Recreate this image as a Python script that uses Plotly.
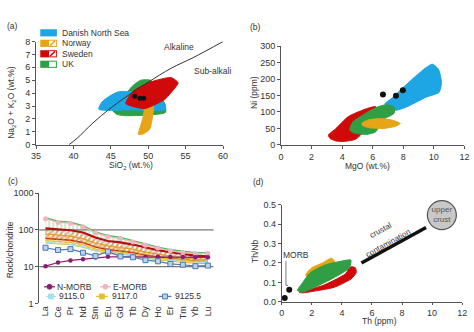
import plotly.graph_objects as go

W, H = 474, 332
FONT = "Liberation Sans, Arial, sans-serif"
TXT = "#333333"
AX = "#555555"
FS = 8.5

# ---------------- colours
C_BLUE = "#1ea5e3"
C_ORANGE = "#e6a417"
C_RED = "#d00a0a"
C_GREEN = "#2f9e44"

# ---------------- panel (a) TAS
DNS_SIO2 = [43.4, 43.8, 44.8, 46.0, 48.0, 50.0, 52.0, 52.3, 52.2, 48.0]
DNS_ALK = [2.75, 3.3, 3.75, 4.1, 4.1, 3.8, 3.4, 3.0, 2.7, 2.7]
UK_SIO2 = [45.2, 45.8, 47.0, 50.0, 52.3, 52.3, 51.0, 50.3, 49.0, 47.8, 46.5]
UK_ALK = [2.7, 2.35, 2.25, 2.3, 2.5, 3.0, 4.5, 5.0, 5.0, 4.5, 3.5]
SWE_SIO2 = [47.0, 47.5, 48.1, 50.0, 51.8, 53.1, 54.0, 53.0, 52.2, 50.5, 49.6, 48.0]
SWE_ALK = [3.2, 3.8, 4.2, 4.8, 5.1, 5.2, 4.8, 4.0, 3.5, 3.0, 2.8, 2.95]
NOR_SIO2 = [49.6, 50.7, 50.6, 50.2, 49.2, 48.7, 49.0, 49.3]
NOR_ALK = [2.9, 3.0, 2.3, 1.2, 0.8, 0.8, 1.5, 2.1]
SAMPLE_SIO2 = [48.2, 48.9, 49.4]
SAMPLE_ALK = [3.75, 3.6, 3.6]
DIVIDE_SIO2 = [39.4, 40.5, 42.6, 45.0, 47.5, 50.0, 53.1, 56.0, 60.0]
DIVIDE_ALK = [0.0, 0.5, 1.68, 2.85, 3.9, 4.85, 5.94, 6.75, 8.0]
LEGEND_A = ["Danish North Sea", "Norway", "Sweden", "UK"]

# ---------------- panel (b) MgO vs Ni
DNS_MGO = [6.8, 7.2, 8.6, 9.5, 9.9, 10.3, 10.5, 10.35, 9.5, 8.2, 7.5, 7.0]
DNS_NI = [125, 140, 200, 235, 245, 230, 190, 160, 145, 115, 105, 110]
SWE_MGO = [3.1, 3.2, 3.6, 4.2, 4.9, 5.5, 6.2, 6.2, 5.6, 4.4, 3.6]
SWE_NI = [30, 20, 12, 11, 18, 45, 100, 116, 110, 86, 50]
UK_MGO = [4.5, 4.7, 5.5, 6.3, 6.9, 7.4, 7.4, 6.6, 6.2, 5.6, 4.8]
UK_NI = [45, 70, 95, 115, 122, 115, 96, 75, 40, 32, 36]
NOR_MGO = [5.3, 5.7, 6.5, 7.3, 7.8, 7.5, 6.7, 5.8, 5.3]
NOR_NI = [66, 76, 80, 75, 65, 57, 50, 52, 60]
SAMPLE_MGO = [6.67, 7.52, 7.97]
SAMPLE_NI = [153, 149, 166]

# ---------------- panel (c) REE spider
REE = ["La", "Ce", "Pr", "Nd", "Sm", "Eu", "Gd", "Tb", "Dy", "Ho", "Er", "Tm", "Yb", "Lu"]
UK_TOP = [215, 172, 162, 130, 88, 70, 62, 50, 41, 34, 29, 26, 24, 24]
UK_BOT = [60, 56, 53, 46, 35, 30, 28, 25, 21, 19, 17, 16, 15, 15]
SWE_TOP = [110, 104, 98, 85, 62, 50, 46, 40, 33, 28, 25, 22, 20, 19]
SWE_BOT = [58, 55, 52, 45, 34, 29, 27, 24, 20, 18, 16, 15, 14, 13.5]
NOR_TOP = [78, 73, 68, 58, 44, 37, 34, 30, 25, 22, 19, 17, 16, 15.5]
NOR_BOT = [44, 42, 40, 34, 27, 23, 22, 20, 17, 15.5, 14, 13, 12.5, 12]
N_MORB = [10.3, 13, 14.8, 16, 17.8, 18.5, 18.5, 18.5, 18.5, 18.5, 18.3, 18.2, 18, 18]
E_MORB = [202, 159, 152, 122, 83, 66, 58, 47, 38, 32, 27, 24, 23, 23]
S9115 = [46, 43, 41, 35, 27, 24, 23, 21, 18, 16, 15, 14, 13.5, 13]
S9117 = [51, 48, 46, 39, 30, 26, 25, 22, 19, 17, 16, 15, 14, 14]
S9125 = [32.7, 28.3, 30, 24, 19.6, 25.7, 19, 18, 15, 14, 11.9, 11.3, 10.3, 10.7]
GRID_C = [10, 100]
LEGEND_C = ["N-MORB", "E-MORB", "9115.0", "9117.0", "9125.5"]

# ---------------- panel (d) Th vs Th/Nb
NOR_TH = [1.6, 2.0, 2.7, 3.3, 3.5, 3.3, 2.5, 1.8]
NOR_THNB = [0.14, 0.175, 0.2, 0.225, 0.21, 0.18, 0.16, 0.12]
SWE_TH = [1.15, 2.7, 4.2, 4.6, 4.9, 4.95, 4.6, 3.5, 2.4, 1.4]
SWE_THNB = [0.05, 0.083, 0.142, 0.18, 0.175, 0.15, 0.117, 0.075, 0.058, 0.046]
UK_TH = [1.05, 1.4, 1.9, 2.9, 4.0, 4.6, 4.5, 3.5, 2.2, 1.4]
UK_THNB = [0.058, 0.1, 0.15, 0.19, 0.21, 0.215, 0.175, 0.125, 0.075, 0.05]
MORB_TH = [0.2, 0.5]
MORB_THNB = [0.02, 0.062]
CONTAM_TH = [5.3, 9.6]
CONTAM_THNB = [0.2, 0.383]
CRUST_TH = [10.65]
CRUST_THNB = [0.447]


def PX(x):
    return x / W


def PY(y):
    return 1 - y / H


fig = go.Figure()


def poly(x, y, color, xa, ya):
    fig.add_trace(go.Scatter(x=x + x[:1], y=y + y[:1], fill="toself", fillcolor=color,
                             mode="lines", line=dict(color=color, width=1, shape="spline", smoothing=0.6),
                             xaxis=xa, yaxis=ya, showlegend=False, hoverinfo="skip"))


# (a)
poly(UK_SIO2, UK_ALK, C_GREEN, "x", "y")
poly(DNS_SIO2, DNS_ALK, C_BLUE, "x", "y")
poly(NOR_SIO2, NOR_ALK, C_ORANGE, "x", "y")
poly(SWE_SIO2, SWE_ALK, C_RED, "x", "y")
fig.add_trace(go.Scatter(x=DIVIDE_SIO2, y=DIVIDE_ALK, mode="lines", line=dict(color="#333", width=1, shape="spline"),
                         xaxis="x", yaxis="y", showlegend=False))
fig.add_trace(go.Scatter(x=SAMPLE_SIO2, y=SAMPLE_ALK, mode="markers", marker=dict(color="#111", size=5),
                         xaxis="x", yaxis="y", showlegend=False))

# (b)
poly(DNS_MGO, DNS_NI, C_BLUE, "x2", "y2")
poly(SWE_MGO, SWE_NI, C_RED, "x2", "y2")
poly(UK_MGO, UK_NI, C_GREEN, "x2", "y2")
poly(NOR_MGO, NOR_NI, C_ORANGE, "x2", "y2")
fig.add_trace(go.Scatter(x=SAMPLE_MGO, y=SAMPLE_NI, mode="markers", marker=dict(color="#111", size=6),
                         xaxis="x2", yaxis="y2", showlegend=False))


# (c)
def band(top, bot, edge_top, edge_bot, wt, wb, shape, fg, sol):
    fig.add_trace(go.Scatter(x=REE, y=bot, mode="lines", line=dict(color=edge_bot, width=wb),
                             xaxis="x3", yaxis="y3", showlegend=False))
    fig.add_trace(go.Scatter(x=REE, y=top, mode="lines", line=dict(color=edge_top, width=wt),
                             fill="tonexty", fillcolor="rgba(0,0,0,0)",
                             fillpattern=dict(shape=shape, fgcolor=fg, bgcolor="rgba(255,255,255,0)",
                                              size=4, solidity=sol),
                             xaxis="x3", yaxis="y3", showlegend=False))


band(UK_TOP, UK_BOT, "#5cb85c", "#7cc47c", 1.5, 0.8, "|", "#5cb85c", 0.3)
band(SWE_TOP, SWE_BOT, "#b01010", "#d02010", 2.2, 1.5, "/", "#e0401a", 0.4)
band(NOR_TOP, NOR_BOT, "#e8a020", "#f0b030", 1.2, 1.2, "\\", "#f0a020", 0.4)

C_NM, C_EM, C_15, C_17, C_25 = "#8e1c6e", "#f0b4bf", "#9fe3ee", "#e6c02c", "#4d78b5"
fig.add_trace(go.Scatter(x=REE, y=S9115, mode="lines", line=dict(color=C_15, width=1.3),
                         xaxis="x3", yaxis="y3", showlegend=False))
fig.add_trace(go.Scatter(x=REE, y=S9117, mode="lines", line=dict(color=C_17, width=1.3),
                         xaxis="x3", yaxis="y3", showlegend=False))
fig.add_trace(go.Scatter(x=REE, y=E_MORB, mode="lines+markers", line=dict(color=C_EM, width=1.2),
                         marker=dict(color=C_EM, size=5), xaxis="x3", yaxis="y3", showlegend=False))
fig.add_trace(go.Scatter(x=REE, y=N_MORB, mode="lines+markers", line=dict(color=C_NM, width=1.2),
                         marker=dict(color=C_NM, size=4.5), xaxis="x3", yaxis="y3", showlegend=False))
fig.add_trace(go.Scatter(x=REE, y=S9125, mode="lines+markers", line=dict(color=C_25, width=1.2),
                         marker=dict(color="#b9d3ee", size=5, symbol="square", line=dict(color=C_25, width=1)),
                         xaxis="x3", yaxis="y3", showlegend=False))

# (d)
poly(NOR_TH, NOR_THNB, C_ORANGE, "x4", "y4")
poly(SWE_TH, SWE_THNB, C_RED, "x4", "y4")
poly(UK_TH, UK_THNB, C_GREEN, "x4", "y4")
fig.add_trace(go.Scatter(x=MORB_TH, y=MORB_THNB, mode="markers", marker=dict(color="#111", size=6),
                         xaxis="x4", yaxis="y4", showlegend=False))
fig.add_trace(go.Scatter(x=CONTAM_TH, y=CONTAM_THNB, mode="lines", line=dict(color="#111", width=3.5),
                         xaxis="x4", yaxis="y4", showlegend=False))
fig.add_trace(go.Scatter(x=CRUST_TH, y=CRUST_THNB, mode="markers+text", text=["upper<br>crust"],
                         textposition="middle center", textfont=dict(size=8, color="#555", family=FONT),
                         marker=dict(size=29, color="#c8c8c8", line=dict(color="#555", width=1.2)),
                         cliponaxis=False, xaxis="x4", yaxis="y4", showlegend=False))

axis_common = dict(showline=True, linecolor=AX, linewidth=1, ticks="outside", tickcolor=AX,
                   showgrid=False, zeroline=False, tickfont=dict(size=9, color=TXT, family=FONT))

fig.update_layout(
    width=W, height=H, margin=dict(l=0, r=0, t=0, b=0), paper_bgcolor="white", plot_bgcolor="rgba(0,0,0,0)",
    font=dict(family=FONT, color=TXT, size=FS), showlegend=False,
    xaxis=dict(domain=[PX(31.7), PX(222.7)], range=[35, 60], dtick=5, anchor="y", ticklen=3, **axis_common),
    yaxis=dict(domain=[PY(144), PY(37.7)], range=[0, 8], dtick=1, anchor="x", ticklen=3, **axis_common),
    xaxis2=dict(domain=[PX(282), PX(469.3)], range=[0, 12], dtick=2, anchor="y2", ticklen=3, **axis_common),
    yaxis2=dict(domain=[PY(144.3), PY(42.3)], range=[0, 300], dtick=50, anchor="x2", ticklen=3, **axis_common),
    xaxis4=dict(domain=[PX(282.7), PX(467)], range=[0, 12], dtick=2, anchor="y4", ticklen=2, **axis_common),
    yaxis4=dict(domain=[PY(306), PY(206)], range=[0, 0.5], dtick=0.1, tickformat=".1f", anchor="x4",
                ticklen=3, **axis_common),
)
fig.update_layout(
    xaxis3=dict(domain=[PX(35), PX(213)], range=[-0.5, 13.45], anchor="y3", type="category",
                showline=False, ticks="", tickangle=-90, showgrid=False, zeroline=False,
                tickfont=dict(size=9, color=TXT, family=FONT)),
    yaxis3=dict(domain=[PY(307.7), PY(194)], type="log", range=[0, 3], tickvals=[1, 10, 100, 1000],
                ticktext=["1", "10", "100", "1000"], anchor="x3", ticklen=3, **axis_common),
)

shapes = []
for g in GRID_C:
    shapes.append(dict(type="line", xref="x3 domain", yref="y3", x0=0, x1=1, y0=g, y1=g,
                       line=dict(color="#777", width=1.3), layer="below"))

# MORB leader (d)
shapes.append(dict(type="line", xref="x4", yref="y4", x0=0.28, x1=0.28, y0=0.21, y1=0.085,
                   line=dict(color="#555", width=0.8)))
shapes.append(dict(type="line", xref="x4", yref="y4", x0=0.28, x1=0.42, y0=0.085, y1=0.085,
                   line=dict(color="#555", width=0.8)))

ann = []
# legend (a)
leg_cols = [C_BLUE, C_ORANGE, C_RED, C_GREEN]
for i, (lab, col) in enumerate(zip(LEGEND_A, leg_cols)):
    yc = 28.7 + i * 10.8
    shapes.append(dict(type="rect", xref="paper", yref="paper", x0=PX(36), x1=PX(53),
                       y0=PY(yc + 3.7), y1=PY(yc - 3.7), fillcolor=col, line=dict(width=0)))
    if i > 0:
        shapes.append(dict(type="rect", xref="paper", yref="paper", x0=PX(45), x1=PX(52),
                           y0=PY(yc + 2.7), y1=PY(yc - 2.7), fillcolor="white", line=dict(width=0)))
        if i < 3:
            shapes.append(dict(type="line", xref="paper", yref="paper", x0=PX(46), x1=PX(51),
                               y0=PY(yc + 2.5), y1=PY(yc - 2.5), line=dict(color=col, width=1.5)))
    ann.append(dict(text=lab, xref="paper", yref="paper", x=PX(56.5), y=PY(yc), xanchor="left",
                    yanchor="middle", showarrow=False, font=dict(size=FS, color=TXT)))

# legend (c)
leg_c = [
    (LEGEND_C[0], C_NM, 40, 51, 290.5, 51.5, "circle", C_NM),
    (LEGEND_C[1], C_EM, 97, 108, 290.5, 108.5, "circle", C_EM),
    (LEGEND_C[2], C_15, 42, 52, 300.5, 53.5, "square", C_15),
    (LEGEND_C[3], C_17, 93, 105, 300.5, 107, "square", C_17),
    (LEGEND_C[4], C_25, 157, 170, 300.5, 171.5, "square", "#b9d3ee"),
]
for lab, col, x0, x1, yc, xt, sym, mfill in leg_c:
    shapes.append(dict(type="line", xref="paper", yref="paper", x0=PX(x0), x1=PX(x1), y0=PY(yc), y1=PY(yc),
                       line=dict(color=col, width=1.3)))
    xm = (x0 + x1) / 2
    shapes.append(dict(type="circle" if sym == "circle" else "rect", xref="paper", yref="paper",
                       x0=PX(xm - 2.5), x1=PX(xm + 2.5), y0=PY(yc + 2.5), y1=PY(yc - 2.5),
                       fillcolor=mfill, line=dict(color=col, width=1)))
    ann.append(dict(text=lab, xref="paper", yref="paper", x=PX(xt), y=PY(yc), xanchor="left",
                    yanchor="middle", showarrow=False, font=dict(size=FS, color=TXT)))

# panel labels
for lab, x, y in [("(a)", 0.5, 21.7), ("(b)", 248.5, 22.7), ("(c)", 1, 181.7), ("(d)", 251.5, 182.7)]:
    ann.append(dict(text=lab, xref="paper", yref="paper", x=PX(x), y=PY(y), xanchor="left", yanchor="middle",
                    showarrow=False, font=dict(size=FS, color=TXT)))

# axis titles
titles = [
    ("Na<sub>2</sub>O + K<sub>2</sub>O (wt.%)", 7, 100, -90),
    ("SiO<sub>2</sub> (wt.%)", 129, 165.5, 0),
    ("Ni (ppm)", 255, 90, -90),
    ("MgO (wt.%)", 370, 165.5, 0),
    ("Rock/chondrite", 6, 252, -90),
    ("Th/Nb", 256, 254, -90),
    ("Th (ppm)", 383, 326, 0),
]
for t, x, y, a in titles:
    ann.append(dict(text=t, xref="paper", yref="paper", x=PX(x), y=PY(y), xanchor="center", yanchor="middle",
                    textangle=a, showarrow=False, font=dict(size=FS, color=TXT)))

# in-plot labels
ann.append(dict(text="Alkaline", xref="x", yref="y", x=54.15, y=7.6, showarrow=False, font=dict(size=FS, color=TXT)))
ann.append(dict(text="Sub-alkali", xref="x", yref="y", x=58.6, y=5.7, showarrow=False, font=dict(size=FS, color=TXT)))
ann.append(dict(text="MORB", xref="x4", yref="y4", x=0.93, y=0.24, showarrow=False, font=dict(size=FS, color=TXT)))
ann.append(dict(text="crustal", xref="x4", yref="y4", x=6.57, y=0.366, textangle=-29, showarrow=False,
                font=dict(size=8, color=TXT)))
ann.append(dict(text="contamination", xref="x4", yref="y4", x=7.05, y=0.303, textangle=-29, showarrow=False,
                font=dict(size=8, color=TXT)))

fig.update_layout(shapes=shapes, annotations=ann)
fig.write_html("out.html")
